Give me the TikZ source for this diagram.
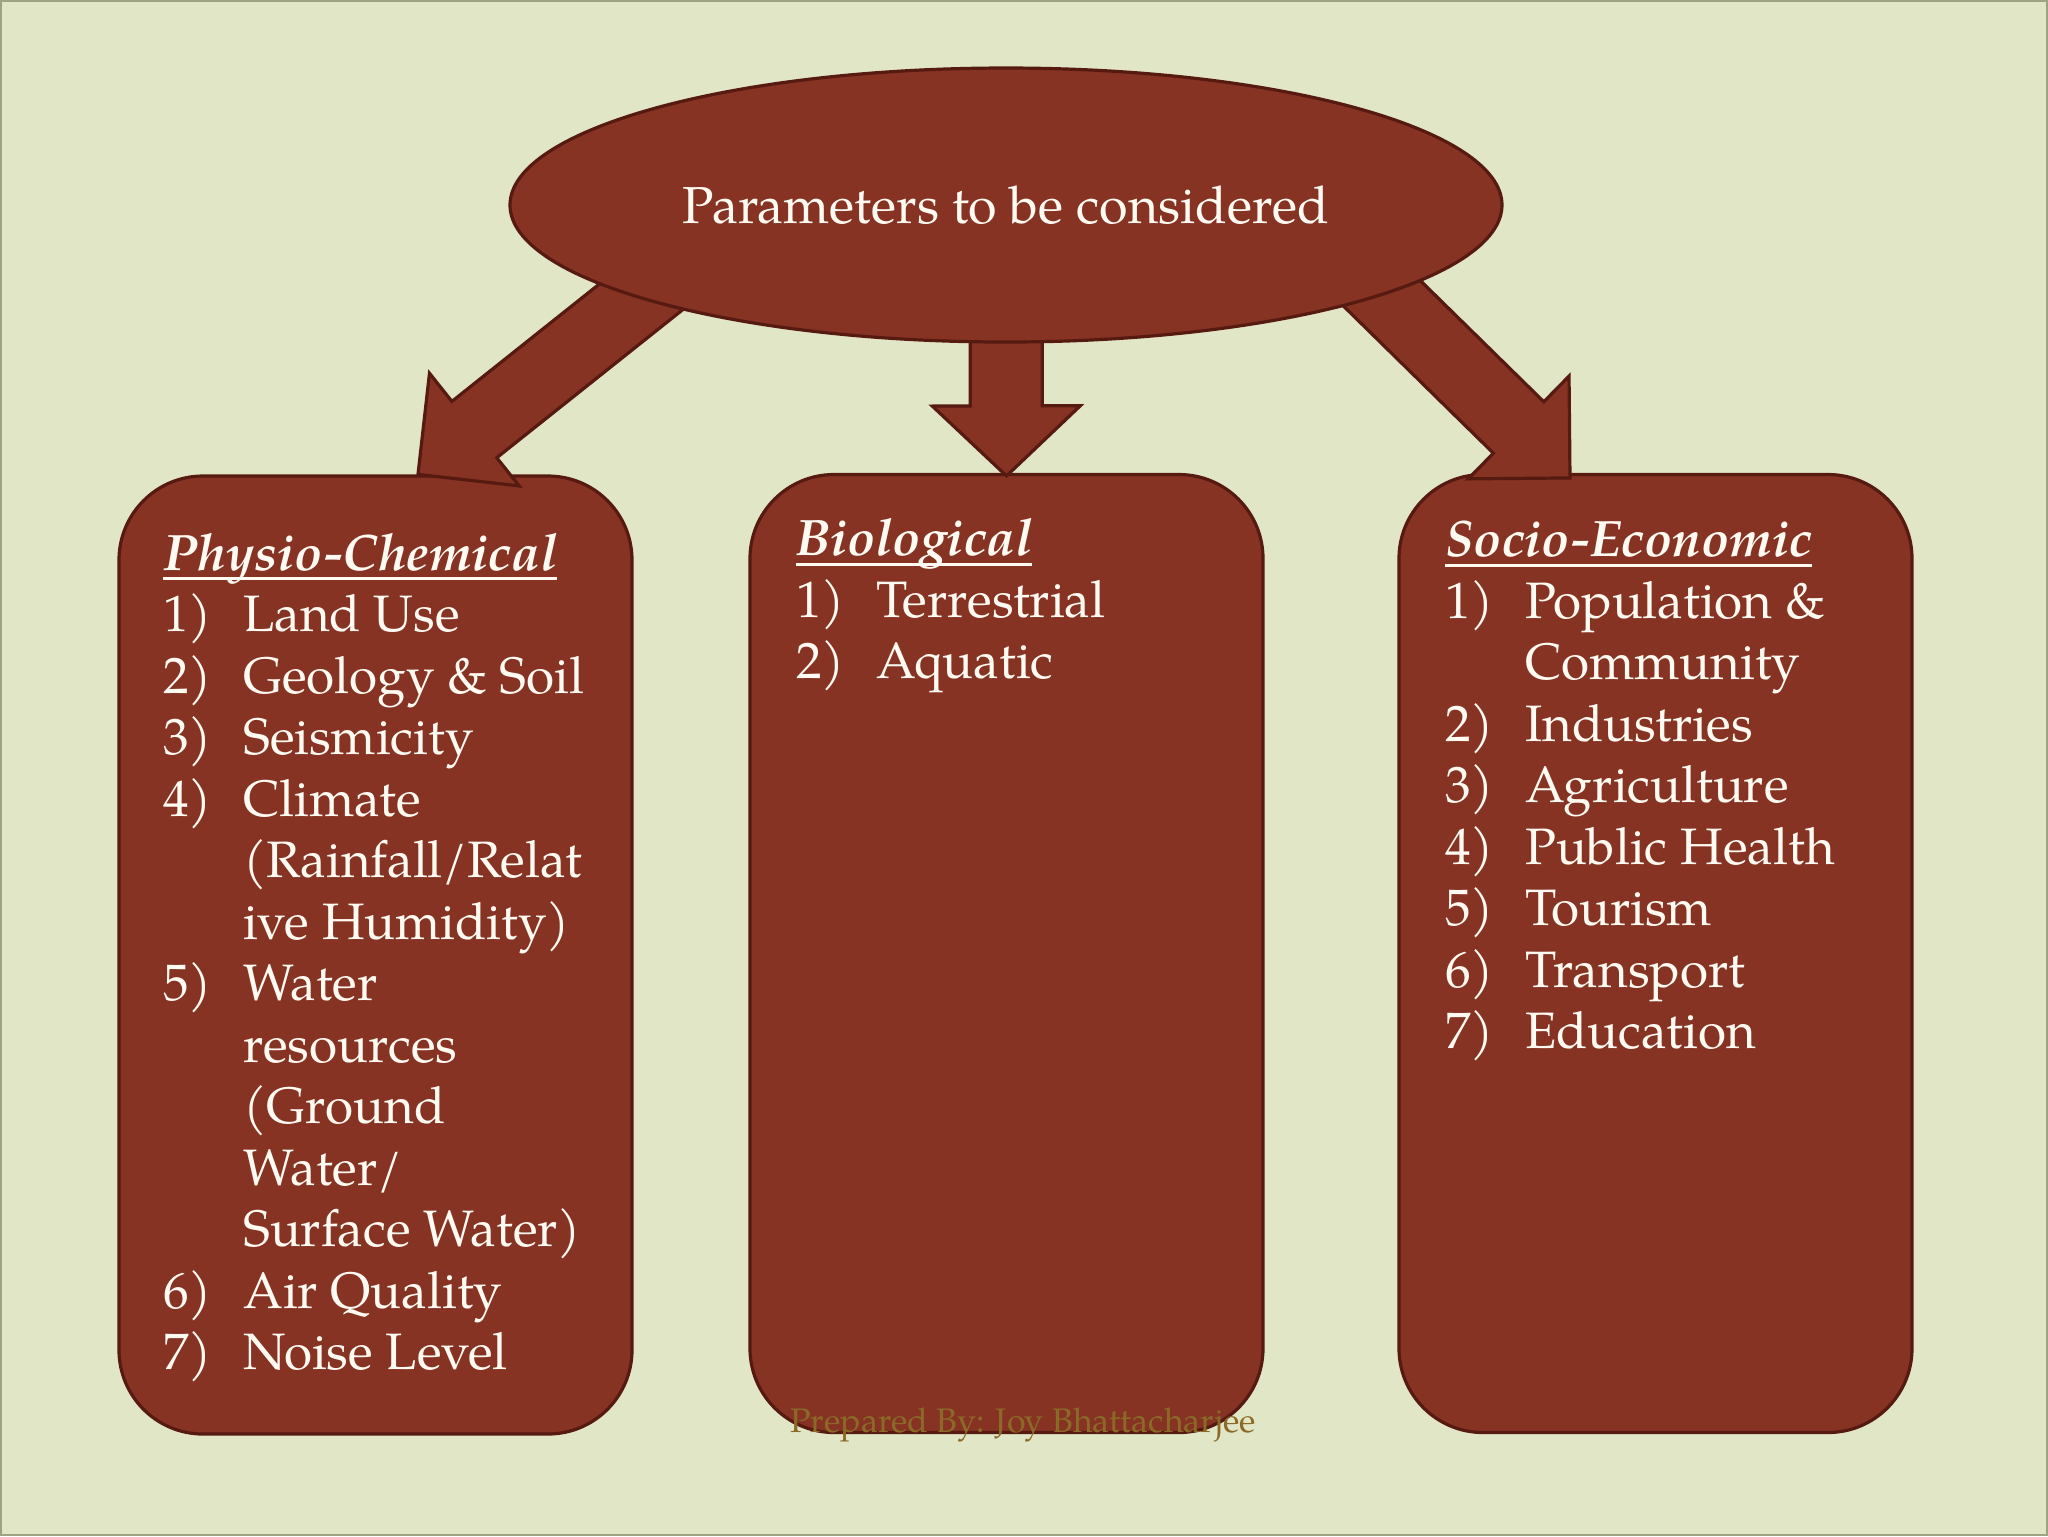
\documentclass[tikz,border=0pt]{standalone}
\usepackage{fontspec}
\setmainfont{TeX Gyre Pagella}
\usetikzlibrary{calc,shapes.geometric}

\definecolor{slidebg}{HTML}{E1E6C7}
\definecolor{slideedge}{HTML}{9EA381}
\definecolor{brick}{HTML}{863324}
\definecolor{brickline}{HTML}{561A10}
\definecolor{cream}{HTML}{FFFAF2}
\definecolor{footgold}{HTML}{8B6A28}

\pgfdeclarelayer{slide}
\pgfdeclarelayer{boxes}
\pgfdeclarelayer{arrows}
\pgfsetlayers{slide,boxes,arrows,main}

\newcommand{\ulhead}[1]{\setbox0\hbox{\bfseries\itshape #1}\rlap{\rule[-2.4pt]{\wd0}{0.75pt}}\box0}
\newcommand{\blockarrow}[5]{%
  \coordinate (ab) at ($(#2)!#5!(#1)$);
  \filldraw[blockarr] ($(#1)!#3!90:(#2)$) -- ($(ab)!#3!90:(#2)$) -- ($(ab)!#4!90:(#2)$) -- (#2)
    -- ($(ab)!#4!-90:(#2)$) -- ($(ab)!#3!-90:(#2)$) -- ($(#1)!#3!-90:(#2)$) -- cycle;}

\tikzset{
  box/.style={draw=brickline, fill=brick, line width=0.8pt, rounded corners=21pt,
    minimum width=128.25pt, minimum height=239.5pt, inner sep=0pt},
  oval/.style={ellipse, draw=brickline, fill=brick, line width=0.8pt, minimum width=248pt,
    minimum height=68.5pt, inner sep=0pt, text=cream, font=\fontsize{13}{15}\selectfont},
  blockarr/.style={draw=brickline, fill=brick, line width=0.8pt, line join=miter},
  list/.style={anchor=base west, inner sep=0pt, text=cream, font=\fontsize{12.8}{15.375}\selectfont}
}

\begin{document}
\begin{tikzpicture}[x=0.25pt, y=-0.25pt]
  \useasboundingbox (0,0) rectangle (2048,1536);
  \begin{pgfonlayer}{slide}
    \fill[slidebg] (0,0) rectangle (2048,1536);
    \draw[slideedge, line width=0.6pt] (1,1) rectangle (2047,1535);
  \end{pgfonlayer}

  \begin{pgfonlayer}{boxes}
    \node[box] (physio) at (375.5,955) {};
    \node[box] (bio) at (1006.5,953.5) {};
    \node[box] (socio) at (1655.5,953.5) {};
  \end{pgfonlayer}

  \node[oval] (params) at (1006,205) {Parameters to be considered};

  \coordinate (ls) at ($(params.center)+(-330,64)$);
  \coordinate (lt) at ($(physio.north)+(42.5,0)$);
  \coordinate (ms) at ($(params.center)+(0,60)$);
  \coordinate (mt) at ($(bio.north)+(0,3)$);
  \coordinate (rs) at ($(params.center)+(345,58)$);
  \coordinate (rt) at ($(socio.north)+(-85.5,5)$);
  \begin{pgfonlayer}{arrows}
    \blockarrow{ls}{lt}{9pt}{18pt}{18pt}
    \blockarrow{ms}{mt}{9pt}{18.5pt}{17.5pt}
    \blockarrow{rs}{rt}{9pt}{18pt}{18pt}
  \end{pgfonlayer}

  \node[list] (physiotext) at ($(physio.north west)+(45,96)$) {%
    \begin{tabular}[t]{@{}p{20pt}@{}l@{}}
      \multicolumn{2}{@{}l@{}}{\ulhead{Physio-Chemical}}\\
      1) & Land Use\\
      2) & Geology \& Soil\\
      3) & Seismicity\\
      4) & Climate\\
         & (Rainfall/Relat\\
         & ive Humidity)\\
      5) & Water\\
         & resources\\
         & (Ground\\
         & Water/\\
         & Surface Water)\\
      6) & Air Quality\\
      7) & Noise Level
    \end{tabular}};
  \node[list] (biotext) at ($(bio.north west)+(47,83)$) {%
    \begin{tabular}[t]{@{}p{20pt}@{}l@{}}
      \multicolumn{2}{@{}l@{}}{\ulhead{Biological}}\\
      1) & Terrestrial\\
      2) & Aquatic
    \end{tabular}};
  \node[list] (sociotext) at ($(socio.north west)+(47,84)$) {%
    \begin{tabular}[t]{@{}p{20pt}@{}l@{}}
      \multicolumn{2}{@{}l@{}}{\ulhead{Socio-Economic}}\\
      1) & Population \&\\
         & Community\\
      2) & Industries\\
      3) & Agriculture\\
      4) & Public Health\\
      5) & Tourism\\
      6) & Transport\\
      7) & Education
    \end{tabular}};

  \node[anchor=base, inner sep=0pt, text=footgold, font=\fontsize{8.5}{10}\selectfont] (credit)
    at (1023,1432) {Prepared By: Joy Bhattacharjee};
\end{tikzpicture}
\end{document}
